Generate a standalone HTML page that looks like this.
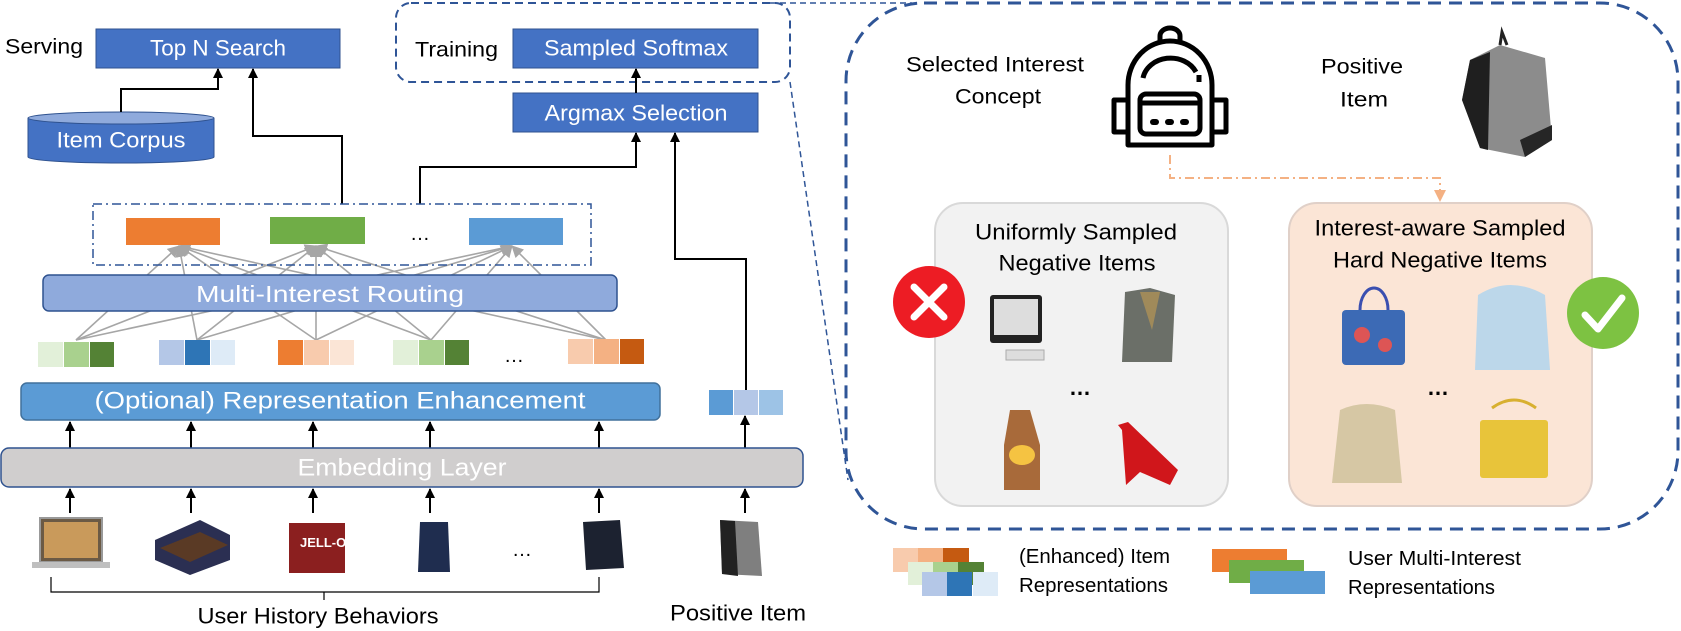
<!DOCTYPE html>
<html><head><meta charset="utf-8"><style>
html,body{margin:0;padding:0;background:#fff;}
svg{display:block;}
text{font-family:"Liberation Sans",sans-serif;}
</style></head><body>
<svg width="1681" height="631" viewBox="0 0 1681 631" xmlns="http://www.w3.org/2000/svg">
<defs>
<marker id="ab" markerWidth="10" markerHeight="10" refX="9" refY="5" orient="auto" markerUnits="userSpaceOnUse" viewBox="0 0 10 10">
<path d="M0,0 L10,5 L0,10 Z" fill="#000"/></marker>
<marker id="ag" markerWidth="12" markerHeight="12" refX="11" refY="6" orient="auto" markerUnits="userSpaceOnUse">
<path d="M0,0 L12,6 L0,12 Z" fill="#a6a6a6"/></marker>
<marker id="ao" markerWidth="12" markerHeight="12" refX="11" refY="6" orient="auto" markerUnits="userSpaceOnUse">
<path d="M0,0 L12,6 L0,12 Z" fill="#f4b183"/></marker>
</defs>

<!-- Serving -->
<text x="5" y="47" font-size="21" dominant-baseline="central" textLength="78" lengthAdjust="spacingAndGlyphs">Serving</text>
<rect x="96" y="29" width="244" height="39" fill="#4472c4" stroke="#2f528f" stroke-width="1"/>
<text x="218" y="48" font-size="22" fill="#fff" text-anchor="middle" dominant-baseline="central" textLength="136" lengthAdjust="spacingAndGlyphs">Top N Search</text>
<!-- cylinder -->
<path d="M28,118 L28,157 A93,6 0 0 0 214,157 L214,118" fill="#4472c4" stroke="#2f528f"/>
<ellipse cx="121" cy="118" rx="93" ry="6" fill="#8faadc" stroke="#2f528f"/>
<text x="121" y="140" font-size="22" fill="#fff" text-anchor="middle" dominant-baseline="central" textLength="129" lengthAdjust="spacingAndGlyphs">Item Corpus</text>
<polyline points="121,112 121,89 218,89 218,69" fill="none" stroke="#000" stroke-width="2" marker-end="url(#ab)"/>
<polyline points="342,204 342,136 253,136 253,69" fill="none" stroke="#000" stroke-width="2" marker-end="url(#ab)"/>

<!-- Training -->
<rect x="396" y="3" width="394" height="79" rx="15" fill="none" stroke="#2f5597" stroke-width="2" stroke-dasharray="8 5"/>
<text x="415" y="50" font-size="21" dominant-baseline="central" textLength="83" lengthAdjust="spacingAndGlyphs">Training</text>
<rect x="513" y="29" width="245" height="39" fill="#4472c4" stroke="#2f528f"/>
<text x="636" y="48" font-size="22" fill="#fff" text-anchor="middle" dominant-baseline="central" textLength="184" lengthAdjust="spacingAndGlyphs">Sampled Softmax</text>
<rect x="513" y="93" width="245" height="39" fill="#4472c4" stroke="#2f528f"/>
<text x="636" y="113" font-size="22" fill="#fff" text-anchor="middle" dominant-baseline="central" textLength="183" lengthAdjust="spacingAndGlyphs">Argmax Selection</text>
<line x1="636" y1="93" x2="636" y2="69" stroke="#000" stroke-width="2" marker-end="url(#ab)"/>
<polyline points="420,204 420,167 636,167 636,133" fill="none" stroke="#000" stroke-width="2" marker-end="url(#ab)"/>
<polyline points="746,390 746,259 675,259 675,133" fill="none" stroke="#000" stroke-width="2" marker-end="url(#ab)"/>

<!-- thin dashed connectors -->
<line x1="770" y1="3" x2="912" y2="3" stroke="#2f5597" stroke-width="1.5" stroke-dasharray="6 4"/>
<line x1="790" y1="82" x2="848" y2="480" stroke="#2f5597" stroke-width="1.5" stroke-dasharray="6 4"/>

<!-- routing lines -->
<g stroke="#a6a6a6" stroke-width="1.6" fill="none">
<line x1="76" y1="340" x2="179" y2="246" marker-end="url(#ag)"/>
<line x1="76" y1="340" x2="316" y2="246" marker-end="url(#ag)"/>
<line x1="76" y1="340" x2="512" y2="246" marker-end="url(#ag)"/>
<line x1="197" y1="340" x2="179" y2="246" marker-end="url(#ag)"/>
<line x1="197" y1="340" x2="316" y2="246" marker-end="url(#ag)"/>
<line x1="197" y1="340" x2="512" y2="246" marker-end="url(#ag)"/>
<line x1="316" y1="340" x2="179" y2="246" marker-end="url(#ag)"/>
<line x1="316" y1="340" x2="316" y2="246" marker-end="url(#ag)"/>
<line x1="316" y1="340" x2="512" y2="246" marker-end="url(#ag)"/>
<line x1="431" y1="340" x2="179" y2="246" marker-end="url(#ag)"/>
<line x1="431" y1="340" x2="316" y2="246" marker-end="url(#ag)"/>
<line x1="431" y1="340" x2="512" y2="246" marker-end="url(#ag)"/>
<line x1="606" y1="340" x2="179" y2="246" marker-end="url(#ag)"/>
<line x1="606" y1="340" x2="316" y2="246" marker-end="url(#ag)"/>
<line x1="606" y1="340" x2="512" y2="246" marker-end="url(#ag)"/>
</g>

<!-- interest box -->
<rect x="93" y="204" width="498" height="61" fill="none" stroke="#2f5597" stroke-width="1.5" stroke-dasharray="9 4 2 4"/>
<rect x="126" y="218" width="94" height="27" fill="#ed7d31"/>
<rect x="270" y="217" width="95" height="27" fill="#70ad47"/>
<text x="420" y="240" font-size="20" text-anchor="middle">…</text>
<rect x="469" y="218" width="94" height="27" fill="#5b9bd5"/>

<!-- routing box -->
<rect x="43" y="275" width="574" height="36" rx="6" fill="#8faadc" stroke="#2f528f" stroke-width="1.5"/>
<text x="330" y="294" font-size="23" fill="#fff" text-anchor="middle" dominant-baseline="central" textLength="268" lengthAdjust="spacingAndGlyphs">Multi-Interest Routing</text>

<!-- item embeddings -->
<g>
<rect x="38" y="342" width="25" height="25" fill="#e2f0d9"/><rect x="64" y="342" width="25" height="25" fill="#a9d18e"/><rect x="90" y="342" width="24" height="25" fill="#548235"/>
<rect x="159" y="340" width="25" height="25" fill="#b4c7e7"/><rect x="185" y="340" width="25" height="25" fill="#2e75b6"/><rect x="211" y="340" width="24" height="25" fill="#deebf7"/>
<rect x="278" y="340" width="25" height="25" fill="#ed7d31"/><rect x="304" y="340" width="25" height="25" fill="#f8cbad"/><rect x="330" y="340" width="24" height="25" fill="#fbe5d6"/>
<rect x="393" y="340" width="25" height="25" fill="#e2f0d9"/><rect x="419" y="340" width="25" height="25" fill="#a9d18e"/><rect x="445" y="340" width="24" height="25" fill="#548235"/>
<text x="514" y="362" font-size="20" text-anchor="middle">…</text>
<rect x="568" y="339" width="25" height="25" fill="#f8cbad"/><rect x="594" y="339" width="25" height="25" fill="#f4b183"/><rect x="620" y="339" width="24" height="25" fill="#c55a11"/>
</g>

<!-- enhancement -->
<rect x="21" y="383" width="639" height="37" rx="6" fill="#5b9bd5" stroke="#41719c" stroke-width="1.5"/>
<text x="340" y="401" font-size="24" fill="#fff" text-anchor="middle" dominant-baseline="central" textLength="491" lengthAdjust="spacingAndGlyphs">(Optional) Representation Enhancement</text>
<!-- positive embedding -->
<rect x="709" y="390" width="24" height="25" fill="#5b9bd5"/><rect x="734" y="390" width="24" height="25" fill="#b4c7e7"/><rect x="759" y="390" width="24" height="25" fill="#9dc3e6"/>

<!-- arrows -->
<g stroke="#000" stroke-width="2" fill="none">
<line x1="70" y1="448" x2="70" y2="422" marker-end="url(#ab)"/>
<line x1="191" y1="448" x2="191" y2="422" marker-end="url(#ab)"/>
<line x1="313" y1="448" x2="313" y2="422" marker-end="url(#ab)"/>
<line x1="430" y1="448" x2="430" y2="422" marker-end="url(#ab)"/>
<line x1="599" y1="448" x2="599" y2="422" marker-end="url(#ab)"/>
<line x1="745" y1="448" x2="745" y2="416" marker-end="url(#ab)"/>
<line x1="70" y1="513" x2="70" y2="489" marker-end="url(#ab)"/>
<line x1="191" y1="513" x2="191" y2="489" marker-end="url(#ab)"/>
<line x1="313" y1="513" x2="313" y2="489" marker-end="url(#ab)"/>
<line x1="430" y1="513" x2="430" y2="489" marker-end="url(#ab)"/>
<line x1="599" y1="513" x2="599" y2="489" marker-end="url(#ab)"/>
<line x1="745" y1="513" x2="745" y2="489" marker-end="url(#ab)"/>
</g>

<!-- embedding layer -->
<rect x="1" y="448" width="802" height="39" rx="8" fill="#d0cece" stroke="#2f528f" stroke-width="1.5"/>
<text x="402" y="468" font-size="24" fill="#fff" text-anchor="middle" dominant-baseline="central" textLength="209" lengthAdjust="spacingAndGlyphs">Embedding Layer</text>

<!-- item images (approx) -->
<g>
<rect x="40" y="518" width="62" height="44" fill="#6b5a45" stroke="#999" stroke-width="2"/>
<rect x="44" y="522" width="54" height="36" fill="#c99a5b"/>
<rect x="32" y="562" width="78" height="6" fill="#bfbfbf"/>
<path d="M155,540 L200,520 L230,535 L230,560 L190,575 L155,560 Z" fill="#2b2f52"/>
<path d="M160,548 L200,532 L228,545 L190,562 Z" fill="#5a3a25"/>
<rect x="289" y="523" width="56" height="50" fill="#8b1f1f"/>
<text x="300" y="547" font-size="13" fill="#fff" font-weight="bold">JELL-O</text>
<path d="M420,522 L448,522 L450,572 L418,572 Z" fill="#1f2d4f"/>
<path d="M583,522 L620,520 L624,568 L586,570 Z" fill="#1c2230"/>
<text x="522" y="556" font-size="20" text-anchor="middle">…</text>
<path d="M720,520 L758,522 L762,576 L722,574 Z" fill="#7f7f7f"/>
<path d="M720,520 L735,521 L738,576 L722,574 Z" fill="#222"/>
</g>
<path d="M51,577 L51,592 L324,592 L324,600 M324,592 L599,592 L599,577" fill="none" stroke="#000" stroke-width="1.2"/>
<text x="318" y="616" font-size="22" text-anchor="middle" dominant-baseline="central" textLength="241" lengthAdjust="spacingAndGlyphs">User History Behaviors</text>
<text x="738" y="613" font-size="22" text-anchor="middle" dominant-baseline="central" textLength="136" lengthAdjust="spacingAndGlyphs">Positive Item</text>

<!-- RIGHT PANEL -->
<rect x="846" y="3" width="832" height="526" rx="78" fill="none" stroke="#2f5597" stroke-width="3" stroke-dasharray="13 8"/>
<text x="995" y="65" font-size="21" text-anchor="middle" dominant-baseline="central" textLength="178" lengthAdjust="spacingAndGlyphs">Selected Interest</text>
<text x="998" y="97" font-size="21" text-anchor="middle" dominant-baseline="central" textLength="86" lengthAdjust="spacingAndGlyphs">Concept</text>
<!-- backpack icon -->
<g fill="none" stroke="#000" stroke-width="5" stroke-linejoin="round">
<path d="M1160,42 L1160,36 A10,8 0 0 1 1180,36 L1180,42"/>
<path d="M1128,145 L1128,85 A42,44 0 0 1 1212,85 L1212,145 Z"/>
<path d="M1143,78 A28,24 0 0 1 1196,72"/>
<line x1="1199" y1="75" x2="1199" y2="82"/>
<rect x="1140" y="94" width="60" height="40" rx="6"/>
<line x1="1140" y1="103" x2="1200" y2="103"/>
<path d="M1128,100 L1114,100 L1114,132 L1128,132"/>
<path d="M1212,100 L1226,100 L1226,132 L1212,132"/>
</g>
<g fill="#000"><rect x="1150" y="119" width="9" height="6" rx="3"/><rect x="1165" y="119" width="9" height="6" rx="3"/><rect x="1180" y="119" width="9" height="6" rx="3"/></g>

<text x="1362" y="67" font-size="21" text-anchor="middle" dominant-baseline="central" textLength="82" lengthAdjust="spacingAndGlyphs">Positive</text>
<text x="1364" y="100" font-size="21" text-anchor="middle" dominant-baseline="central" textLength="48" lengthAdjust="spacingAndGlyphs">Item</text>
<!-- positive backpack image -->
<path d="M1470,60 L1500,45 L1545,58 L1552,140 L1525,157 L1480,148 L1462,100 Z" fill="#8c8c8c"/>
<path d="M1470,60 L1490,52 L1488,150 L1480,148 L1462,100 Z" fill="#1f1f1f"/>
<path d="M1520,140 L1552,125 L1552,140 L1525,157 Z" fill="#262626"/>
<path d="M1500,45 L1502,32 L1507,45" fill="none" stroke="#222" stroke-width="3"/>

<!-- orange connector -->
<polyline points="1170,155 1170,178 1440,178 1440,201" fill="none" stroke="#f4b183" stroke-width="2" stroke-dasharray="9 4 2 4" marker-end="url(#ao)"/>

<!-- uniform box -->
<rect x="935" y="203" width="293" height="303" rx="28" fill="#f2f2f2" stroke="#d9d9d9" stroke-width="2"/>
<text x="1076" y="232" font-size="22" text-anchor="middle" dominant-baseline="central" textLength="202" lengthAdjust="spacingAndGlyphs">Uniformly Sampled</text>
<text x="1077" y="263" font-size="22" text-anchor="middle" dominant-baseline="central" textLength="157" lengthAdjust="spacingAndGlyphs">Negative Items</text>
<circle cx="929" cy="302" r="36" fill="#ed1c24"/>
<path d="M914,287 L944,317 M944,287 L914,317" stroke="#fff" stroke-width="7" stroke-linecap="round"/>
<!-- negative items -->
<rect x="990" y="295" width="52" height="48" rx="3" fill="#222"/><rect x="994" y="299" width="44" height="36" fill="#ddd"/>
<rect x="1006" y="350" width="38" height="10" fill="#ddd" stroke="#aaa"/>
<path d="M1125,292 L1150,288 L1175,295 L1172,362 L1122,362 Z" fill="#6b6f68"/>
<path d="M1140,292 L1160,292 L1152,330 Z" fill="#a08a5a"/>
<text x="1080" y="395" font-size="22" text-anchor="middle" font-weight="bold">…</text>
<path d="M1010,410 L1030,410 L1040,445 L1040,490 L1004,490 L1004,445 Z" fill="#a86a3a"/>
<ellipse cx="1022" cy="455" rx="13" ry="10" fill="#f5c342"/>
<path d="M1118,425 L1128,422 L1178,470 L1170,485 L1140,472 L1126,485 L1122,430 Z" fill="#d0161b"/>

<!-- interest-aware box -->
<rect x="1289" y="203" width="303" height="303" rx="28" fill="#fbe5d6" stroke="#e0d0c8" stroke-width="2"/>
<text x="1440" y="228" font-size="22" text-anchor="middle" dominant-baseline="central" textLength="251" lengthAdjust="spacingAndGlyphs">Interest-aware Sampled</text>
<text x="1440" y="260" font-size="22" text-anchor="middle" dominant-baseline="central" textLength="214" lengthAdjust="spacingAndGlyphs">Hard Negative Items</text>
<circle cx="1603" cy="313" r="36" fill="#7dc242"/>
<path d="M1585,315 L1598,329 L1622,298" fill="none" stroke="#fff" stroke-width="7" stroke-linecap="round" stroke-linejoin="round"/>
<path d="M1360,310 A14,22 0 0 1 1388,310" fill="none" stroke="#3a4fb0" stroke-width="3"/>
<rect x="1342" y="310" width="63" height="55" rx="4" fill="#3c6ab5"/>
<circle cx="1362" cy="335" r="8" fill="#d55"/><circle cx="1385" cy="345" r="7" fill="#d55"/>
<path d="M1478,295 Q1510,275 1545,295 L1550,370 L1475,370 Z" fill="#bcd7ea"/>
<text x="1438" y="395" font-size="22" text-anchor="middle" font-weight="bold">…</text>
<path d="M1340,410 Q1366,398 1395,410 L1402,483 L1332,483 Z" fill="#d6c7a4"/>
<path d="M1492,408 Q1514,392 1536,408" fill="none" stroke="#d8b030" stroke-width="3"/>
<rect x="1480" y="420" width="68" height="58" rx="3" fill="#e8c43a"/>

<!-- legend -->
<rect x="893" y="548" width="25" height="24" fill="#f8cbad"/><rect x="918" y="548" width="25" height="24" fill="#f4b183"/><rect x="943" y="548" width="26" height="24" fill="#c55a11"/>
<rect x="908" y="562" width="25" height="23" fill="#e2f0d9"/><rect x="933" y="562" width="25" height="23" fill="#a9d18e"/><rect x="958" y="562" width="26" height="23" fill="#548235"/>
<rect x="922" y="572" width="25" height="24" fill="#b4c7e7"/><rect x="947" y="572" width="25" height="24" fill="#2e75b6"/><rect x="973" y="572" width="25" height="24" fill="#deebf7"/>
<text x="1019" y="557" font-size="20" dominant-baseline="central" textLength="151" lengthAdjust="spacingAndGlyphs">(Enhanced) Item</text>
<text x="1019" y="586" font-size="20" dominant-baseline="central" textLength="149" lengthAdjust="spacingAndGlyphs">Representations</text>
<rect x="1212" y="549" width="75" height="23" fill="#ed7d31"/>
<rect x="1229" y="560" width="75" height="23" fill="#70ad47"/>
<rect x="1250" y="571" width="75" height="23" fill="#5b9bd5"/>
<text x="1348" y="559" font-size="20" dominant-baseline="central" textLength="173" lengthAdjust="spacingAndGlyphs">User Multi-Interest</text>
<text x="1348" y="588" font-size="20" dominant-baseline="central" textLength="147" lengthAdjust="spacingAndGlyphs">Representations</text>
</svg>
</body></html>
